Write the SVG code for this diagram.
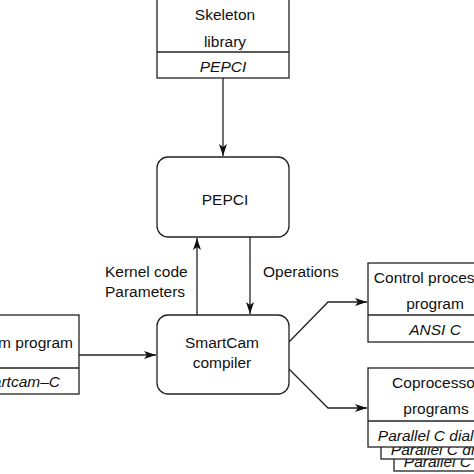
<svg xmlns="http://www.w3.org/2000/svg" width="474" height="474" viewBox="0 0 474 474">
<defs>
<style>
.box{fill:#fff;stroke:#222;stroke-width:1.3}
.ln{fill:none;stroke:#222;stroke-width:1.3}
text{font-family:"Liberation Sans",Arial,sans-serif;font-size:15.5px;fill:#111}
.c{text-anchor:middle}
.i{font-style:italic}
</style>
<marker id="ah" viewBox="0 0 12 8" refX="12" refY="4" markerWidth="12" markerHeight="8" markerUnits="userSpaceOnUse" orient="auto">
<path d="M0,0 L12,4 L0,8 L3,4 Z" fill="#111"/>
</marker>
</defs>
<rect width="474" height="474" fill="#fff"/>
<g id="connectors">
<line class="ln" x1="223" y1="78" x2="223" y2="156" marker-end="url(#ah)"/>
<line class="ln" x1="197" y1="315" x2="197" y2="238" marker-end="url(#ah)"/>
<line class="ln" x1="250" y1="237" x2="250" y2="314" marker-end="url(#ah)"/>
<line class="ln" x1="79" y1="355" x2="156" y2="355" marker-end="url(#ah)"/>
<polyline class="ln" points="289,342 328,302 367,302" marker-end="url(#ah)"/>
<polyline class="ln" points="289,369 328,408 367,408" marker-end="url(#ah)"/>
<text x="105" y="277">Kernel code</text>
<text x="105" y="297">Parameters</text>
<text x="263" y="277">Operations</text>
</g>
<g id="skeleton">
<rect class="box" x="157" y="-5" width="132" height="83"/>
<line class="ln" x1="157" y1="52" x2="289" y2="52"/>
<text class="c" x="225" y="20">Skeleton</text>
<text class="c" x="225" y="47">library</text>
<text class="c i" x="223" y="72">PEPCI</text>
</g>
<g id="pepci">
<rect class="box" x="157" y="157" width="132" height="80" rx="11"/>
<text class="c" x="225" y="205">PEPCI</text>
</g>
<g id="smartcam">
<rect class="box" x="157" y="315" width="132" height="79" rx="11"/>
<text class="c" x="222" y="348">SmartCam</text>
<text class="c" x="222" y="368">compiler</text>
</g>
<g id="program">
<rect class="box" x="-66" y="315" width="145" height="79"/>
<line class="ln" x1="-66" y1="368" x2="79" y2="368"/>
<text x="73" y="348" text-anchor="end">Smartcam program</text>
<text class="i" x="60" y="387" text-anchor="end">Smartcam–C</text>
</g>
<g id="control">
<rect class="box" x="368" y="263" width="134" height="79"/>
<line class="ln" x1="368" y1="315" x2="502" y2="315"/>
<text class="c" x="435" y="283">Control processor</text>
<text class="c" x="435" y="309">program</text>
<text class="c i" x="435" y="335">ANSI C</text>
</g>
<g id="coprocessor">
<rect class="box" x="394" y="392" width="134" height="79"/>
<text class="c i" x="462" y="467">Parallel C dialect</text>
<rect class="box" x="381" y="380" width="134" height="79"/>
<text class="c i" x="449" y="455">Parallel C dialect</text>
<rect class="box" x="368" y="368" width="134" height="79"/>
<line class="ln" x1="368" y1="421" x2="502" y2="421"/>
<text class="c" x="436" y="388">Coprocessor</text>
<text class="c" x="436" y="414">programs</text>
<text class="c i" x="436" y="441">Parallel C dialect</text>
</g>
</svg>
